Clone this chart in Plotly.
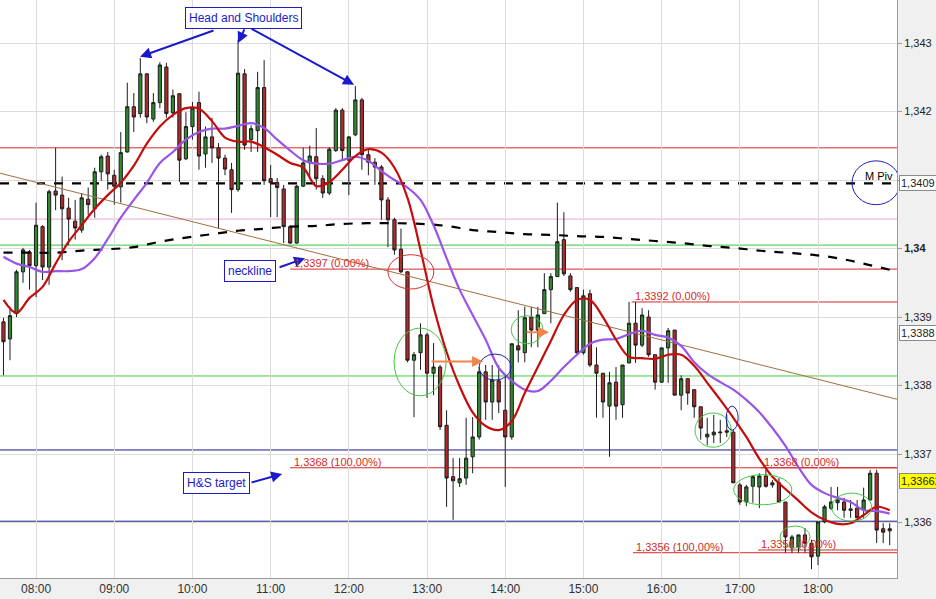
import pandas as pd
import plotly.graph_objects as go

# ---------------- data ----------------
opens = [1.33893, 1.33868, 1.33905, 1.33966, 1.33995, 1.33975, 1.34032, 1.33973, 1.34084, 1.34078,
         1.34059, 1.34040, 1.34027, 1.34072, 1.34058, 1.34112, 1.34135, 1.34107, 1.34090, 1.34141,
         1.34207, 1.34197, 1.34255, 1.34189, 1.34213, 1.34265, 1.34198, 1.34226, 1.34131, 1.34178,
         1.34213, 1.34138, 1.34163, 1.34147, 1.34132, 1.34115, 1.34086, 1.34255, 1.34159, 1.34172,
         1.34235, 1.34102, 1.34096, 1.34087, 1.34032, 1.34008, 1.34091, 1.34125, 1.34134, 1.34102,
         1.34081, 1.34143, 1.34202, 1.34129, 1.34166, 1.34217, 1.34137, 1.34126, 1.34119, 1.34071,
         1.34042, 1.33999, 1.33966, 1.33837, 1.33848, 1.33874, 1.33818, 1.33827, 1.33742, 1.33667,
         1.33658, 1.33665, 1.33696, 1.33725, 1.33820, 1.33776, 1.33807, 1.33764, 1.33725, 1.33858,
         1.33848, 1.33900, 1.33881, 1.33905, 1.33940, 1.33959, 1.34013, 1.33960, 1.33943, 1.33848,
         1.33934, 1.33830, 1.33818, 1.33770, 1.33805, 1.33772, 1.33833, 1.33891, 1.33859, 1.33900,
         1.33845, 1.33805, 1.33855, 1.33881, 1.33786, 1.33810, 1.33794, 1.33769, 1.33725, 1.33728,
         1.33731, 1.33734, 1.33732, 1.33655, 1.33630, 1.33653, 1.33652, 1.33668, 1.33655, 1.33658,
         1.33630, 1.33563, 1.33564, 1.33582, 1.33570, 1.33551, 1.33601, 1.33621, 1.33629, 1.33630,
         1.33620, 1.33621, 1.33618, 1.33633, 1.33672, 1.33591, 1.33591]
highs = [1.33899, 1.33915, 1.33969, 1.34001, 1.33998, 1.34067, 1.34034, 1.34086, 1.34147, 1.34105,
         1.34074, 1.34071, 1.34081, 1.34089, 1.34118, 1.34137, 1.34141, 1.34115, 1.34170, 1.34242,
         1.34227, 1.34278, 1.34256, 1.34227, 1.34272, 1.34271, 1.34232, 1.34227, 1.34199, 1.34214,
         1.34229, 1.34178, 1.34191, 1.34154, 1.34137, 1.34125, 1.34305, 1.34262, 1.34180, 1.34258,
         1.34275, 1.34122, 1.34103, 1.34093, 1.34034, 1.34093, 1.34147, 1.34150, 1.34176, 1.34107,
         1.34148, 1.34205, 1.34205, 1.34164, 1.34237, 1.34220, 1.34144, 1.34132, 1.34122, 1.34075,
         1.34045, 1.34029, 1.33967, 1.33849, 1.33891, 1.33877, 1.33862, 1.33830, 1.33764, 1.33694,
         1.33694, 1.33753, 1.33754, 1.33827, 1.33830, 1.33830, 1.33830, 1.33815, 1.33861, 1.33910,
         1.33915, 1.33915, 1.33915, 1.33964, 1.33964, 1.34067, 1.34053, 1.33964, 1.33943, 1.33940,
         1.33940, 1.33856, 1.33818, 1.33820, 1.33827, 1.33830, 1.33922, 1.33922, 1.33913, 1.33910,
         1.33845, 1.33855, 1.33884, 1.33881, 1.33815, 1.33810, 1.33794, 1.33769, 1.33753, 1.33757,
         1.33750, 1.33757, 1.33735, 1.33658, 1.33655, 1.33669, 1.33672, 1.33677, 1.33662, 1.33665,
         1.33630, 1.33582, 1.33582, 1.33592, 1.33575, 1.33601, 1.33626, 1.33652, 1.33652, 1.33636,
         1.33633, 1.33633, 1.33651, 1.33677, 1.33677, 1.33599, 1.33599]
lows = [1.33815, 1.33837, 1.33900, 1.33950, 1.33940, 1.33929, 1.33954, 1.33947, 1.34056, 1.33983,
        1.34005, 1.34013, 1.34023, 1.34049, 1.34045, 1.34099, 1.34086, 1.34064, 1.34067, 1.34140,
        1.34170, 1.34191, 1.34183, 1.34185, 1.34205, 1.34191, 1.34191, 1.34097, 1.34129, 1.34159,
        1.34115, 1.34118, 1.34125, 1.34030, 1.34107, 1.34052, 1.34083, 1.34144, 1.34141, 1.34141,
        1.34093, 1.34046, 1.34046, 1.34008, 1.34007, 1.34007, 1.34090, 1.34105, 1.34086, 1.34074,
        1.34078, 1.34141, 1.34129, 1.34078, 1.34164, 1.34115, 1.34107, 1.34093, 1.34042, 1.34002,
        1.33991, 1.33964, 1.33834, 1.33754, 1.33823, 1.33782, 1.33786, 1.33735, 1.33623, 1.33604,
        1.33652, 1.33655, 1.33672, 1.33721, 1.33750, 1.33750, 1.33760, 1.33652, 1.33721, 1.33834,
        1.33834, 1.33856, 1.33856, 1.33905, 1.33891, 1.33959, 1.33960, 1.33937, 1.33845, 1.33845,
        1.33827, 1.33753, 1.33753, 1.33696, 1.33750, 1.33753, 1.33833, 1.33833, 1.33856, 1.33842,
        1.33794, 1.33804, 1.33804, 1.33786, 1.33764, 1.33772, 1.33753, 1.33721, 1.33713, 1.33716,
        1.33716, 1.33725, 1.33658, 1.33626, 1.33624, 1.33629, 1.33621, 1.33651, 1.33651, 1.33630,
        1.33556, 1.33556, 1.33556, 1.33556, 1.33532, 1.33538, 1.33599, 1.33618, 1.33618, 1.33607,
        1.33607, 1.33607, 1.33607, 1.33633, 1.33570, 1.33570, 1.33567]
closes = [1.33864, 1.33902, 1.33966, 1.33998, 1.33975, 1.34034, 1.33973, 1.34083, 1.34078, 1.34058,
          1.34043, 1.34030, 1.34074, 1.34064, 1.34112, 1.34134, 1.34109, 1.34091, 1.34140, 1.34207,
          1.34192, 1.34255, 1.34192, 1.34213, 1.34268, 1.34197, 1.34223, 1.34129, 1.34178, 1.34205,
          1.34135, 1.34163, 1.34147, 1.34132, 1.34116, 1.34086, 1.34256, 1.34151, 1.34175, 1.34235,
          1.34099, 1.34096, 1.34089, 1.34032, 1.34008, 1.34091, 1.34125, 1.34135, 1.34102, 1.34081,
          1.34145, 1.34202, 1.34143, 1.34163, 1.34217, 1.34137, 1.34126, 1.34119, 1.34071, 1.34042,
          1.33998, 1.33966, 1.33837, 1.33845, 1.33874, 1.33818, 1.33827, 1.33740, 1.33665, 1.33661,
          1.33664, 1.33694, 1.33725, 1.33820, 1.33776, 1.33808, 1.33776, 1.33725, 1.33861, 1.33852,
          1.33899, 1.33881, 1.33903, 1.33940, 1.33959, 1.34010, 1.33963, 1.33940, 1.33848, 1.33931,
          1.33830, 1.33818, 1.33776, 1.33804, 1.33770, 1.33830, 1.33891, 1.33859, 1.33903, 1.33845,
          1.33805, 1.33855, 1.33880, 1.33786, 1.33810, 1.33789, 1.33769, 1.33738, 1.33729, 1.33732,
          1.33732, 1.33732, 1.33658, 1.33630, 1.33652, 1.33667, 1.33668, 1.33653, 1.33658, 1.33630,
          1.33579, 1.33579, 1.33582, 1.33570, 1.33550, 1.33601, 1.33623, 1.33630, 1.33633, 1.33618,
          1.33618, 1.33607, 1.33633, 1.33672, 1.33589, 1.33586, 1.33588]

# fast moving average (red), read every 10 minutes from 07:35
red_ma = [1.33925, 1.33906, 1.33928, 1.33944, 1.33978, 1.34010, 1.34034, 1.34058, 1.34078, 1.34096,
          1.34121, 1.34153, 1.34178, 1.34195, 1.34205, 1.34204, 1.34186, 1.34162, 1.34156, 1.34156,
          1.34148, 1.34137, 1.34125, 1.34118, 1.34091, 1.34097, 1.34115, 1.34135, 1.34145, 1.34140,
          1.34118, 1.34074, 1.33998, 1.33915, 1.33849, 1.33799, 1.33761, 1.33741, 1.33735, 1.33748,
          1.33789, 1.33827, 1.33865, 1.33903, 1.33925, 1.33925, 1.33900, 1.33867, 1.33842, 1.33840,
          1.33839, 1.33845, 1.33845, 1.33829, 1.33804, 1.33779, 1.33753, 1.33725, 1.33693, 1.33667,
          1.33649, 1.33632, 1.33615, 1.33604, 1.33598, 1.33599, 1.33611, 1.33623, 1.33618]
# slower moving average (purple), read every 10 minutes from 07:35
purple_ma = [1.33988, 1.33978, 1.33973, 1.33966, 1.33967, 1.33967, 1.33970, 1.33986, 1.34014, 1.34045,
             1.34071, 1.34096, 1.34125, 1.34141, 1.34159, 1.34170, 1.34175, 1.34175, 1.34179, 1.34183,
             1.34176, 1.34159, 1.34143, 1.34129, 1.34124, 1.34124, 1.34129, 1.34134, 1.34128, 1.34113,
             1.34100, 1.34089, 1.34071, 1.34034, 1.33986, 1.33940, 1.33903, 1.33867, 1.33826, 1.33807,
             1.33794, 1.33792, 1.33807, 1.33827, 1.33845, 1.33861, 1.33867, 1.33868, 1.33875, 1.33880,
             1.33874, 1.33870, 1.33858, 1.33834, 1.33817, 1.33805, 1.33794, 1.33779, 1.33761, 1.33738,
             1.33712, 1.33681, 1.33655, 1.33643, 1.33636, 1.33630, 1.33618, 1.33617, 1.33613]
# long moving average (black dashed), read every 20 minutes from 07:35
black_ma = [1.33994, 1.33994, 1.33994, 1.33997, 1.33999, 1.34002, 1.34010, 1.34016, 1.34021, 1.34026,
            1.34029, 1.34032, 1.34033, 1.34036, 1.34037, 1.34037, 1.34036, 1.34033, 1.34027, 1.34024,
            1.34021, 1.34020, 1.34018, 1.34017, 1.34014, 1.34011, 1.34008, 1.34004, 1.34001, 1.33997,
            1.33994, 1.33991, 1.33986, 1.33978, 1.33969]

# neckline (trend line) end points
neck_times = ["2024-03-15 07:32:20", "2024-03-15 19:00:36"]
neck_prices = [1.34110, 1.33780]

# horizontal levels across the whole chart
level_prices = [1.34147, 1.34095, 1.34043, 1.34005, 1.33814, 1.33706, 1.33602]
# Fibonacci levels: (price, start minute after 08:00, label)
fib_prices = [1.3397, 1.3368, 1.33922, 1.3368, 1.33556, 1.3356]
fib_start_min = [195, 195, 457, 556, 458, 554]
fib_labels = ["1,3397 (0,00%)", "1,3368 (100,00%)", "1,3392 (0,00%)", "1,3368 (0,00%)",
              "1,3356 (100,00%)", "1,3356 (0,00%)"]

y_ticks = [1.336, 1.337, 1.338, 1.339, 1.340, 1.341, 1.342, 1.343]
y_tick_text = ["1,336", "1,337", "1,338", "1,339", "<b>1,34</b>", "", "1,342", "1,343"]
x_tick_times = ["2024-03-15 %02d:00" % h for h in range(8, 19)]
x_tick_text = ["08:00", "09:00", "10:00", "11:00", "12:00", "13:00", "14:00", "15:00",
               "16:00", "17:00", "18:00"]

BASE = pd.Timestamp("2024-03-15 08:00")


def tm(minutes):
    return BASE + pd.Timedelta(minutes=minutes)


candle_times = pd.date_range("2024-03-15 07:35", periods=len(opens), freq="5min")
ma_times = pd.date_range("2024-03-15 07:35", periods=len(red_ma), freq="10min")
long_times = pd.date_range("2024-03-15 07:35", periods=len(black_ma), freq="20min")

FONT = "Arial, Liberation Sans, sans-serif"

fig = go.Figure()

# ---------------- shapes: levels ----------------
shapes = []
level_styles = [("#d42a2a", 1, "solid"), ("#000000", 2.2, "dash"), ("#f2a3d2", 1, "solid"),
                ("#3cc83c", 1, "solid"), ("#3cd23c", 1, "solid"), ("#1a1a8c", 1, "solid"),
                ("#1a1a8c", 1, "solid")]
for p, (c, w, d) in zip(level_prices, level_styles):
    shapes.append(dict(type="line", xref="paper", x0=0, x1=1, yref="y", y0=p, y1=p,
                       line=dict(color=c, width=w, dash=d), layer="below"))
for p, m in zip(fib_prices, fib_start_min):
    shapes.append(dict(type="line", xref="x", x0=tm(m), x1=tm(700), yref="y", y0=p, y1=p,
                       line=dict(color="#d42a2a", width=1), layer="below"))

# ellipses (analysis drawings)
ellipses = [
    (270.0, 305.2, 1.33991, 1.33941, "#d43030"),
    (274.7, 314.6, 1.33884, 1.33785, "#40c840"),
    (339.9, 364.5, 1.33846, 1.33808, "#2020b0"),
    (364.5, 389.0, 1.33902, 1.33861, "#40c840"),
    (505.6, 533.3, 1.33760, 1.33710, "#40c840"),
    (529.5, 538.7, 1.33770, 1.33735, "#2020b0"),
    (535.3, 579.9, 1.33670, 1.33626, "#40c840"),
    (570.9, 593.9, 1.33595, 1.33563, "#40c840"),
    (610.5, 641.2, 1.33643, 1.33602, "#40c840"),
    (626.1, 662.9, 1.34128, 1.34064, "#2020b0"),
]
for x0, x1, y0, y1, c in ellipses:
    shapes.append(dict(type="circle", xref="x", yref="y", x0=tm(x0), x1=tm(x1), y0=y0, y1=y1,
                       line=dict(color=c, width=1)))

# ---------------- traces ----------------
fig.add_trace(go.Scatter(x=neck_times, y=neck_prices, mode="lines",
                         line=dict(color="#a0703c", width=1), hoverinfo="skip"))
fig.add_trace(go.Scatter(x=long_times, y=black_ma, mode="lines", line_shape="spline",
                         line=dict(color="#000000", width=2.2, dash="dash"), hoverinfo="skip"))
fig.add_trace(go.Candlestick(
    x=candle_times, open=opens, high=highs, low=lows, close=closes,
    increasing=dict(fillcolor="#2f8a2f", line=dict(color="#1c1c1c", width=1)),
    decreasing=dict(fillcolor="#b32a2a", line=dict(color="#1c1c1c", width=1)),
    whiskerwidth=0, hoverinfo="skip"))
fig.add_trace(go.Scatter(x=ma_times, y=purple_ma, mode="lines", line_shape="spline",
                         line=dict(color="#9a55e6", width=2.2), hoverinfo="skip"))
fig.add_trace(go.Scatter(x=ma_times, y=red_ma, mode="lines", line_shape="spline",
                         line=dict(color="#c40c0c", width=2.2), hoverinfo="skip"))

# ---------------- annotations ----------------
ann = []
BLUE = "#1a1acc"
ann.append(dict(x=tm(159.2), y=1.34337, xref="x", yref="y", text="Head and Shoulders",
                showarrow=False, font=dict(family=FONT, size=12, color=BLUE),
                bordercolor=BLUE, borderwidth=1, borderpad=3, bgcolor="white"))
ann.append(dict(x=tm(164.2), y=1.33967, xref="x", yref="y", text="neckline",
                showarrow=False, font=dict(family=FONT, size=12, color=BLUE),
                bordercolor=BLUE, borderwidth=1, borderpad=3, bgcolor="white"))
ann.append(dict(x=tm(138.5), y=1.33658, xref="x", yref="y", text="H&amp;S target",
                showarrow=False, font=dict(family=FONT, size=12, color=BLUE),
                bordercolor=BLUE, borderwidth=1, borderpad=3, bgcolor="white"))
arrows = [
    (137.3, 1.34319, 79.8, 1.34280, BLUE),
    (160.4, 1.34322, 155.0, 1.34300, BLUE),
    (164.2, 1.34322, 244.0, 1.34239, BLUE),
    (185.7, 1.33972, 206.4, 1.33986, BLUE),
    (164.2, 1.33658, 188.8, 1.33671, BLUE),
    (302.3, 1.33835, 343.0, 1.33835, "#f5844a"),
    (375.2, 1.33878, 393.6, 1.33878, "#f5844a"),
]
for ax_, ay_, x_, y_, c in arrows:
    ann.append(dict(x=tm(x_), y=y_, xref="x", yref="y", ax=tm(ax_), ay=ay_, axref="x", ayref="y",
                    text="", showarrow=True, arrowhead=2, arrowsize=1.1, arrowwidth=2,
                    arrowcolor=c))
for p, m, t in zip(fib_prices, fib_start_min, fib_labels):
    ann.append(dict(x=tm(m + 1), y=p, xref="x", yref="y", text=t, showarrow=False,
                    xanchor="left", yanchor="bottom", yshift=-2,
                    font=dict(family=FONT, size=11, color="#d42a2a")))
ann.append(dict(x=1, y=1.34095, xref="paper", yref="y", text="M Piv", showarrow=False,
                xanchor="right", yanchor="bottom", xshift=-2, yshift=-1,
                font=dict(family=FONT, size=11, color="#000000")))
for p, t, bg in [(1.34096, "1,3409", "white"), (1.33877, "1,3388", "white"),
                 (1.33661, "1,33662", "#ffff00")]:
    ann.append(dict(x=1, y=p, xref="paper", yref="y", text=t, showarrow=False,
                    xanchor="left", xshift=2, font=dict(family=FONT, size=11, color="#222"),
                    bordercolor="#8a8a8a", borderwidth=1, borderpad=1, bgcolor=bg))

fig.update_layout(
    width=936, height=599,
    margin=dict(l=0, r=39, t=0, b=21),
    paper_bgcolor="#f0f0f0", plot_bgcolor="white",
    showlegend=False,
    shapes=shapes, annotations=ann,
    font=dict(family=FONT, size=11, color="#222"),
)
fig.update_xaxes(
    type="date", range=["2024-03-15 07:32:20", "2024-03-15 19:00:36"],
    rangeslider=dict(visible=False),
    tickvals=x_tick_times, ticktext=x_tick_text,
    showgrid=True, gridcolor="#dcdcdc", gridwidth=1,
    ticks="", showline=True, linecolor="#9a9a9a", linewidth=1,
    tickfont=dict(family="Liberation Sans Narrow, Arial Narrow, Liberation Sans", size=12,
                  color="#333"),
    zeroline=False, automargin=False,
)
fig.update_yaxes(
    side="right", range=[1.335191, 1.343628],
    tickvals=y_ticks, ticktext=y_tick_text,
    showgrid=True, gridcolor="#dcdcdc", gridwidth=1,
    ticks="outside", ticklen=4, tickcolor="#9a9a9a",
    showline=True, linecolor="#9a9a9a", linewidth=1,
    tickfont=dict(family=FONT, size=11, color="#222"),
    zeroline=False, automargin=False,
)

fig.write_html("out.html", config={"displayModeBar": False},
               post_script="document.body.style.margin='0';document.body.style.padding='0';"
                           "document.body.style.overflow='hidden';")
